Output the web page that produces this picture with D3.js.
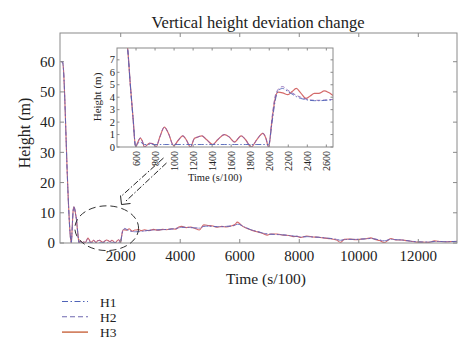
<!DOCTYPE html>
<html><head><meta charset="utf-8">
<script src="https://cdn.jsdelivr.net/npm/d3@7"></script>
<style>
html,body{margin:0;padding:0;background:#fff;}
svg{display:block;font-family:"Liberation Serif","Times New Roman",serif;}
</style></head>
<body>
<svg id="chart" width="474" height="355"></svg>
<script>
// ---- data ----
const title = "Vertical height deviation change";
const xLabel = "Time (s/100)";
const yLabel = "Height (m)";
const seriesNames = ["H1", "H2", "H3"];
const mainXTicks = [2000, 4000, 6000, 8000, 10000, 12000];
const mainYTicks = [0, 10, 20, 30, 40, 50, 60];
const insetXTicks = [600, 800, 1000, 1200, 1400, 1600, 1800, 2000, 2200, 2400, 2600];
const insetYTicks = [0, 1, 2, 3, 4, 5, 6, 7];

const time = [0,40,80,120,160,200,240,280,320,340,
370,400,430,460,490,512,540,570,595,620,
645,665,688,715,740,775,810,850,898,940,
996,1040,1091,1130,1172,1214,1250,1291,1340,1407,
1460,1530,1580,1635,1705,1750,1810,1870,1933,1965,
1993,2030,2060,2091,2140,2196,2240,2284,2330,2386,
2430,2474,2520,2579,2630,2688,2800,2950,3100,3250,
3400,3550,3700,3850,3950,4050,4200,4350,4500,4640,
4790,4950,5100,5250,5400,5550,5700,5850,5915,6000,
6100,6250,6400,6550,6700,6810,6920,7050,7260,7450,
7650,7800,7930,8050,8250,8450,8650,8850,9050,9250,
9390,9510,9700,9900,10100,10250,10400,10550,10700,10850,
11080,11250,11450,11600,11750,11950,12150,12350,12540,12750,
12950,13100,13300];

const h3 = [60,60,57,48,36,24,14,6,1,0,
5,10.5,12,11,9.2,7.9,5,2.2,0,0.4,
0.72,0.5,0,0.15,0.3,0.28,0,0.8,1.6,1.1,
0.1,0.5,0.9,0.55,0,0.7,0.8,0.9,0.6,0.2,
0.6,1.0,0.8,0.4,0.9,0.6,0,0.6,1.1,0.7,
0,2.2,3.8,4.4,4.35,4.2,4.45,4.7,4.35,3.9,
4.1,4.3,4.3,4.5,4.35,4.1,4.4,4.1,4.5,4.2,
4.5,4.4,4.7,4.6,5.3,5.5,5.1,5.3,4.8,4.3,
6.0,5.8,5.6,5.2,5.5,5.3,5.6,6.2,6.9,6.4,
5.5,4.8,4.2,3.8,3.4,3.0,2.6,3.0,3.0,2.6,
2.5,2.1,2.2,1.8,2.3,2.0,1.9,1.6,1.4,1.0,
0.2,1.2,1.3,1.1,1.3,1.4,1.7,1.2,0.8,0.1,
1.5,1.0,1.0,0.8,0.6,0.3,0.3,0.2,0.7,0.5,
0.4,0.5,0.6];

const h2 = [60,60,57,48,36,24,14,6,1,0,
5,10.5,12,11,9.2,7.9,5,2.2,0,0.4,
0.75,0.5,0,0.15,0.3,0.28,0,0.8,1.6,1.1,
0.1,0.5,0.9,0.55,0,0.7,0.8,0.9,0.6,0.2,
0.6,1.0,0.8,0.4,0.9,0.6,0,0.6,1.1,0.7,
0,2.4,4.0,4.6,4.85,4.55,4.35,4.15,4.0,3.85,
3.78,3.75,3.75,3.77,3.8,3.82,4.0,4.2,4.3,4.35,
4.4,4.5,4.6,4.8,5.0,5.2,5.2,5.1,5.0,4.9,
5.5,5.6,5.5,5.4,5.4,5.5,5.6,5.9,6.2,6.1,
5.6,4.9,4.3,3.9,3.5,3.2,3.0,2.9,2.8,2.7,
2.5,2.3,2.2,2.0,2.1,2.0,1.9,1.7,1.5,1.2,
0.9,1.1,1.2,1.2,1.3,1.4,1.5,1.3,1.0,0.7,
1.2,1.1,1.0,0.8,0.6,0.4,0.3,0.3,0.5,0.5,
0.4,0.5,0.5];

const h1 = [60,60,57,48,36,24,14,6,1,0,
5,10.5,12,11,9.2,7.9,5,2.2,0.1,0.3,
0.4,0.3,0.2,0.2,0.2,0.2,0.2,0.2,0.2,0.2,
0.2,0.2,0.2,0.2,0.2,0.2,0.2,0.2,0.2,0.2,
0.2,0.2,0.2,0.2,0.2,0.2,0.2,0.2,0.2,0.2,
0.2,2.0,3.6,4.5,4.7,4.45,4.25,4.05,3.9,3.8,
3.74,3.72,3.72,3.74,3.77,3.8,4.0,4.2,4.3,4.35,
4.4,4.5,4.6,4.8,5.0,5.2,5.2,5.1,5.0,4.9,
5.5,5.6,5.5,5.4,5.4,5.5,5.6,5.9,6.2,6.1,
5.6,4.9,4.3,3.9,3.5,3.2,3.0,2.9,2.8,2.7,
2.5,2.3,2.2,2.0,2.1,2.0,1.9,1.7,1.5,1.2,
0.9,1.1,1.2,1.2,1.3,1.4,1.5,1.3,1.0,0.7,
1.2,1.1,1.0,0.8,0.6,0.4,0.3,0.3,0.5,0.5,
0.4,0.5,0.5];

// ---- styles ----
const colors = {H1: "#4f63b8", H2: "#8a5fb0", H3: "#cf5a5a"};
const legendColors = {H1: "#4f63b8", H2: "#6f68b0", H3: "#c8643e"};
const dashes = {H1: "6,2,1.5,2", H2: "4,2.5", H3: null};
const frameColor = "#8a8a8a";
const textColor = "#222";

const svg = d3.select("#chart");

// ---- main axes ----
const M = {left: 60, right: 457, top: 33, bottom: 243};
const x = d3.scaleLinear().domain([-40, 13300]).range([M.left, M.right]);
const y = d3.scaleLinear().domain([0, 69.5]).range([M.bottom, M.top]);

svg.append("defs").append("clipPath").attr("id", "clipMain")
  .append("rect").attr("x", M.left).attr("y", M.top)
  .attr("width", M.right - M.left).attr("height", M.bottom - M.top);

const seriesData = {H1: h1, H2: h2, H3: h3};
const drawOrder = ["H3", "H2", "H1"];

function drawFrame(g, L, xs, ys, xt, yt, tl) {
  g.append("rect").attr("x", L.left).attr("y", L.top)
    .attr("width", L.right - L.left).attr("height", L.bottom - L.top)
    .attr("fill", "none").attr("stroke", frameColor).attr("stroke-width", 1);
  xt.forEach(t => {
    const px = xs(t);
    g.append("line").attr("x1", px).attr("x2", px).attr("y1", L.bottom).attr("y2", L.bottom - tl)
      .attr("stroke", frameColor);
    g.append("line").attr("x1", px).attr("x2", px).attr("y1", L.top).attr("y2", L.top + tl)
      .attr("stroke", frameColor);
  });
  yt.forEach(t => {
    const py = ys(t);
    g.append("line").attr("x1", L.left).attr("x2", L.left + tl).attr("y1", py).attr("y2", py)
      .attr("stroke", frameColor);
    g.append("line").attr("x1", L.right).attr("x2", L.right - tl).attr("y1", py).attr("y2", py)
      .attr("stroke", frameColor);
  });
}

const gMain = svg.append("g");
const lineMain = d3.line().x((d, i) => x(time[i])).y(d => y(d)).curve(d3.curveMonotoneX);
const gLines = gMain.append("g").attr("clip-path", "url(#clipMain)");
drawOrder.forEach(n => {
  gLines.append("path").datum(seriesData[n])
    .attr("d", lineMain)
    .attr("fill", "none").attr("stroke", colors[n])
    .attr("stroke-width", n === "H3" ? 1.1 : 0.9)
    .attr("stroke-dasharray", dashes[n])
    .attr("opacity", n === "H3" ? 0.9 : 0.8);
});
drawFrame(gMain, M, x, y, mainXTicks, mainYTicks, 4);

// tick labels main
gMain.selectAll(".xt").data(mainXTicks).enter().append("text")
  .attr("x", d => x(d)).attr("y", 261).attr("text-anchor", "middle")
  .attr("font-size", 15).attr("fill", textColor).text(d => d);
gMain.selectAll(".yt").data(mainYTicks).enter().append("text")
  .attr("x", 55).attr("y", d => y(d) + 5.2).attr("text-anchor", "end")
  .attr("font-size", 15).attr("fill", textColor).text(d => d);

svg.append("text").attr("x", 266).attr("y", 283.5).attr("text-anchor", "middle")
  .attr("font-size", 15.5).attr("fill", textColor).text(xLabel);
svg.append("text").attr("transform", "translate(30,133) rotate(-90)")
  .attr("text-anchor", "middle").attr("font-size", 16).attr("fill", textColor).text(yLabel);
svg.append("text").attr("x", 258).attr("y", 27.5).attr("text-anchor", "middle")
  .attr("font-size", 16.5).attr("fill", textColor).text(title);

// ---- ellipse annotation ----
svg.append("ellipse")
  .attr("cx", x(1530)).attr("cy", y(4.9))
  .attr("rx", x(2600) - x(1530)).attr("ry", y(0) - y(7.4))
  .attr("fill", "none").attr("stroke", "#333").attr("stroke-width", 1)
  .attr("stroke-dasharray", "7,4");

// ---- inset ----
const I = {left: 117, right: 333, top: 48, bottom: 147};
const xi = d3.scaleLinear().domain([400, 2670]).range([I.left, I.right]);
const yi = d3.scaleLinear().domain([0, 7.95]).range([I.bottom, I.top]);
const gIn = svg.append("g");
gIn.append("rect").attr("x", I.left).attr("y", I.top)
  .attr("width", I.right - I.left).attr("height", I.bottom - I.top).attr("fill", "#fff");
svg.select("defs").append("clipPath").attr("id", "clipIn")
  .append("rect").attr("x", I.left).attr("y", I.top)
  .attr("width", I.right - I.left).attr("height", I.bottom - I.top);
const lineIn = d3.line().x((d, i) => xi(time[i])).y(d => yi(d)).curve(d3.curveMonotoneX);
const gInLines = gIn.append("g").attr("clip-path", "url(#clipIn)");
drawOrder.forEach(n => {
  gInLines.append("path").datum(seriesData[n])
    .attr("d", lineIn)
    .attr("fill", "none").attr("stroke", colors[n])
    .attr("stroke-width", n === "H3" ? 1.2 : 1)
    .attr("stroke-dasharray", dashes[n])
    .attr("opacity", 0.9);
});
drawFrame(gIn, I, xi, yi, insetXTicks, insetYTicks, 2.5);

gIn.selectAll(".ixt").data(insetXTicks).enter().append("text")
  .attr("transform", d => `translate(${xi(d) + 3.5},151) rotate(-90)`)
  .attr("text-anchor", "end").attr("font-size", 10).attr("fill", textColor).text(d => d);
gIn.selectAll(".iyt").data(insetYTicks).enter().append("text")
  .attr("x", 115).attr("y", d => yi(d) + 3.5).attr("text-anchor", "end")
  .attr("font-size", 10.5).attr("fill", textColor).text(d => d);
svg.append("text").attr("x", 215).attr("y", 180.5).attr("text-anchor", "middle")
  .attr("font-size", 10.5).attr("fill", textColor).text(xLabel);
svg.append("text").attr("transform", "translate(101,97) rotate(-90)")
  .attr("text-anchor", "middle").attr("font-size", 11).attr("fill", textColor).text(yLabel);

// arrow (inset -> ellipse), dash-dot
const arrowStyle = g => g.attr("fill", "none").attr("stroke", "#222").attr("stroke-width", 1)
  .attr("stroke-dasharray", "6,2,1.5,2");
svg.append("line").attr("x1", 163.5).attr("y1", 158).attr("x2", 121.5).attr("y2", 196).call(arrowStyle);
svg.append("line").attr("x1", 166.5).attr("y1", 163).attr("x2", 126).attr("y2", 201).call(arrowStyle);
svg.append("path").attr("d", "M120.5,195.5 L121.5,204.5 L130.5,203.5")
  .attr("fill", "none").attr("stroke", "#222").attr("stroke-width", 1);

// ---- legend ----
const legY = [301.5, 316.8, 332.1];
seriesNames.forEach((n, i) => {
  svg.append("line").attr("x1", 62).attr("x2", 88).attr("y1", legY[i]).attr("y2", legY[i])
    .attr("stroke", legendColors[n]).attr("stroke-width", n === "H3" ? 1.4 : 1.1)
    .attr("stroke-dasharray", n === "H1" ? "6,2.5,1.5,2.5" : (n === "H2" ? "5,3" : null));
  svg.append("text").attr("x", 100).attr("y", legY[i] + 5)
    .attr("font-size", 13.5).attr("fill", textColor).text(n);
});
</script>
</body></html>
